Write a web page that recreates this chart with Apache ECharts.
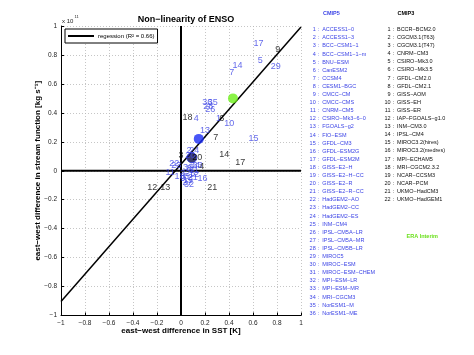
<!DOCTYPE html>
<html><head><meta charset="utf-8">
<script src="https://cdn.jsdelivr.net/npm/echarts@6/dist/echarts.min.js"></script>
<style>html,body{margin:0;padding:0;background:#fff}#c{width:474px;height:355px}</style>
</head><body><div id="c"></div>
<script>
// CMIP5 model labels: [x, y, label]
const cmip5Points = [
  [0.295,0.354,'1'],[0.05,0.135,'2'],[0.0,-0.02,'3'],[0.11,0.354,'4'],[0.643,0.757,'5'],
  [0.03,-0.04,'6'],[0.406,0.678,'7'],[0.05,0.01,'8'],[0.0,-0.06,'9'],[0.364,0.326,'10'],
  [-0.125,-0.017,'11'],[0.07,-0.03,'12'],[0.162,0.273,'13'],[0.433,0.724,'14'],[0.567,0.22,'15'],
  [0.142,-0.058,'16'],[0.608,0.875,'17'],[-0.05,-0.04,'18'],[0.02,-0.07,'19'],[0.04,0.1,'20'],
  [0.06,-0.05,'21'],[-0.094,0.049,'22'],[-0.078,0.035,'23'],[0.073,0.139,'24'],[0.04,-0.02,'25'],
  [0.206,0.417,'26'],[0.017,-0.085,'27'],[0.189,0.437,'28'],[0.753,0.715,'29'],[0.02,0.02,'30'],
  [0.07,0.0,'31'],[0.03,-0.1,'32'],[0.1,0.03,'33'],[0.08,0.03,'34'],[0.227,0.47,'35'],[0.181,0.47,'36']
];
// CMIP3 model labels: [x, y, label]
const cmip3Points = [
  [-0.016,0.104,'3'],[0.156,0.026,'4'],[0.322,0.354,'6'],[0.273,0.229,'7'],[0.789,0.835,'9'],
  [-0.278,-0.118,'12'],[-0.168,-0.118,'13'],[0.323,0.111,'14'],[0.456,0.053,'17'],
  [0.017,0.361,'18'],[0.098,0.09,'20'],[0.223,-0.12,'21']
];
const cmip5Mean = [[0.148,0.22]];
const cmip3Mean = [[0.09,0.09]];
const eraInterim = [[0.433,0.5]];
const regression = [[-1,-0.903],[1,0.993]];
const regressionName = 'regession (R\u00b2 = 0.66)';
const xAxisRange = [-1,1];
const yAxisRange = [-1,1];
const cmip5Names = ['ACCESS1\u22120','ACCESS1\u22123','BCC\u2212CSM1\u22121','BCC\u2212CSM1\u22121\u2212m','BNU\u2212ESM','CanESM2','CCSM4','CESM1\u2212BGC','CMCC\u2212CM','CMCC\u2212CMS','CNRM\u2212CM5','CSIRO\u2212Mk3\u22126\u22120','FGOALS\u2212g2','FIO\u2212ESM','GFDL\u2212CM3','GFDL\u2212ESM2G','GFDL\u2212ESM2M','GISS\u2212E2\u2212H','GISS\u2212E2\u2212H\u2212CC','GISS\u2212E2\u2212R','GISS\u2212E2\u2212R\u2212CC','HadGEM2\u2212AO','HadGEM2\u2212CC','HadGEM2\u2212ES','INM\u2212CM4','IPSL\u2212CM5A\u2212LR','IPSL\u2212CM5A\u2212MR','IPSL\u2212CM5B\u2212LR','MIROC5','MIROC\u2212ESM','MIROC\u2212ESM\u2212CHEM','MPI\u2212ESM\u2212LR','MPI\u2212ESM\u2212MR','MRI\u2212CGCM3','NorESM1\u2212M','NorESM1\u2212ME'];
const cmip3Names = ['BCCR\u2212BCM2.0','CGCM3.1(T63)','CGCM3.1(T47)','CNRM\u2212CM3','CSIRO\u2212Mk3.0','CSIRO\u2212Mk3.5','GFDL\u2212CM2.0','GFDL\u2212CM2.1','GISS\u2212AOM','GISS\u2212EH','GISS\u2212ER','IAP\u2212FGOALS\u2212g1.0','INM\u2212CM3.0','IPSL\u2212CM4','MIROC3.2(hires)','MIROC3.2(medres)','MPI\u2212ECHAM5','MRI\u2212CGCM2.3.2','NCAR\u2212CCSM3','NCAR\u2212PCM','UKMO\u2212HadCM3','UKMO\u2212HadGEM1'];

const FONT = '"Liberation Sans", Arial, Helvetica, sans-serif';
const BLUE = '#3d45e6';
const chart = echarts.init(document.getElementById('c'), null, {renderer:'canvas'});

const graphics = [];
graphics.push({type:'text', left:323, top:10, style:{text:'CMIP5', font:'bold 5.5px '+FONT, fill:BLUE}});
graphics.push({type:'text', left:397.5, top:10, style:{text:'CMIP3', font:'bold 5.5px '+FONT, fill:'#000'}});
cmip5Names.forEach((n,i)=>{
  const y = 29.7 + i*8.1;
  graphics.push({type:'text', x:315.7, y:y, style:{text:String(i+1), font:'5.5px '+FONT, fill:BLUE, align:'right', verticalAlign:'middle'}});
  graphics.push({type:'text', x:317.6, y:y, style:{text:':  '+n, font:'5.5px '+FONT, fill:BLUE, align:'left', verticalAlign:'middle'}});
});
cmip3Names.forEach((n,i)=>{
  const y = 29.4 + i*8.1;
  graphics.push({type:'text', x:390.5, y:y, style:{text:String(i+1), font:'5.5px '+FONT, fill:'#111', align:'right', verticalAlign:'middle'}});
  graphics.push({type:'text', x:392.4, y:y, style:{text:':  '+n, font:'5.5px '+FONT, fill:'#111', align:'left', verticalAlign:'middle'}});
});
graphics.push({type:'text', x:406.5, y:236.7, style:{text:'ERA Interim', font:'bold 5.5px '+FONT, fill:'#6be01c', align:'left', verticalAlign:'middle'}});
graphics.push({type:'text', x:62, y:21, style:{text:'x 10', font:'6px '+FONT, fill:'#222', align:'left', verticalAlign:'middle'}});
graphics.push({type:'text', x:74.5, y:17, style:{text:'11', font:'4px '+FONT, fill:'#222', align:'left', verticalAlign:'middle'}});

const fmt = v => { const r = parseFloat(v.toFixed(1)); return r===0 ? '0' : String(r).replace('-', '\u2212'); };

function labelSeries(data, color){
  return {type:'scatter', data:data, symbolSize:1, itemStyle:{color:'rgba(0,0,0,0)'}, z:5, silent:true,
    label:{show:true, position:[0,0], align:'left', verticalAlign:'middle', formatter:p=>p.value[2],
      color:color, fontSize:9, fontFamily:FONT}};
}

chart.setOption({
  animation:false,
  title:{text:'Non\u2212linearity of ENSO', left:181, top:10, textAlign:'center',
    textStyle:{fontSize:9, fontWeight:'bold', fontFamily:FONT, color:'#000'}},
  legend:{data:[regressionName], left:65, top:29, selectedMode:false, icon:'rect', itemWidth:26, itemHeight:2,
    itemGap:4, padding:[4,3,4,3], borderColor:'#000', borderWidth:1, backgroundColor:'#fff',
    textStyle:{fontSize:6, fontFamily:FONT, color:'#000', padding:[0,0,0,-1]}},
  graphic:graphics,
  grid:{left:61, right:173, top:26, bottom:39.5, containLabel:false},
  xAxis:{type:'value', min:xAxisRange[0], max:xAxisRange[1], interval:0.2,
    name:'east\u2212west difference in SST [K]', nameLocation:'middle', nameGap:11, nameMoveOverlap:false,
    nameTextStyle:{fontSize:8, fontWeight:'bold', fontFamily:FONT, color:'#000'},
    axisLine:{onZero:false, lineStyle:{color:'#000', width:1}},
    axisTick:{inside:true, length:3, lineStyle:{color:'#000'}},
    axisLabel:{fontSize:6.5, fontFamily:FONT, color:'#222', margin:4, formatter:fmt},
    splitLine:{show:true, lineStyle:{color:'#b8b8b8', type:[1,2], width:0.8}}},
  yAxis:{type:'value', min:yAxisRange[0], max:yAxisRange[1], interval:0.2,
    name:'east\u2212west difference in stream function [kg s\u207b\u00b9]', nameLocation:'middle', nameGap:19, nameMoveOverlap:false,
    nameTextStyle:{fontSize:8, fontWeight:'bold', fontFamily:FONT, color:'#000'},
    axisLine:{onZero:false, lineStyle:{color:'#000', width:1}},
    axisTick:{inside:true, length:3, lineStyle:{color:'#000'}},
    axisLabel:{fontSize:6.5, fontFamily:FONT, color:'#222', margin:4, formatter:fmt},
    splitLine:{show:true, lineStyle:{color:'#b8b8b8', type:[1,2], width:0.8}}},
  series:[
    {type:'line', data:[[xAxisRange[0],0],[xAxisRange[1],0]], symbol:'none', silent:true, lineStyle:{color:'#000', width:2}, z:2},
    {type:'line', data:[[0,yAxisRange[0]],[0,yAxisRange[1]]], symbol:'none', silent:true, lineStyle:{color:'#000', width:2}, z:2},
    {name:regressionName, type:'line', data:regression, symbol:'none', itemStyle:{color:'#000'}, lineStyle:{color:'#000', width:1.5}, z:3},
    {type:'scatter', data:cmip5Mean, symbolSize:10, itemStyle:{color:'#1a2cf5'}, z:4},
    {type:'scatter', data:cmip3Mean, symbolSize:10, itemStyle:{color:'#0d0d4a', borderColor:'#2a36d0', borderWidth:1}, z:4},
    {type:'scatter', data:eraInterim, symbolSize:10, itemStyle:{color:'#6ef01a'}, z:4},
    labelSeries(cmip5Points, BLUE),
    labelSeries(cmip3Points, '#000')
  ]
});
</script></body></html>
